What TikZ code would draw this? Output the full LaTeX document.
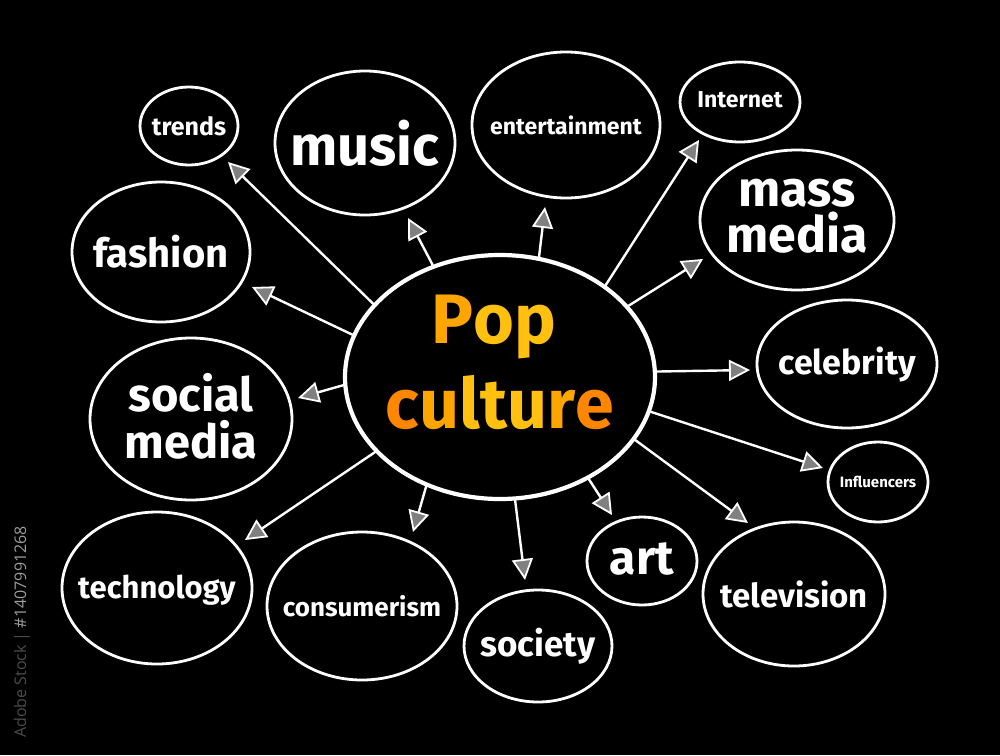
\documentclass[tikz,border=0pt]{standalone}
\usepackage{fontspec}
\setmainfont{Fira Sans}
\newfontfamily\wmfont{Open Sans}
\usetikzlibrary{shapes.geometric,arrows.meta}
\definecolor{orA}{RGB}{255,135,0}
\definecolor{orB}{RGB}{255,165,0}
\definecolor{orC}{RGB}{255,192,15}
\newcommand{\fs}[1]{\fontsize{#1}{#1}\selectfont\bfseries}
\tikzset{
  bubble/.style={ellipse, draw=white, line width=2.8pt, fill=black,
    inner sep=0pt},
  lbl/.style={text=white, inner sep=0pt, align=center},
  hub/.style={ellipse, draw=white, line width=4.2pt, fill=black, inner sep=0pt,
    minimum width=310pt, minimum height=244pt},
  link/.style={draw=white, line width=2.4pt, line cap=round,
    -{Triangle[length=21pt,width=21pt,fill=white!50!black,line width=1.8pt]}},
}
\begin{document}
\begin{tikzpicture}[x=1pt,y=-1pt]
\useasboundingbox (0,0) rectangle (1000,755);
\fill[black] (0,0) rectangle (1000,755);

% central node
\node[hub] (pc) at (500,377) {};
\node[lbl] (pop) at (494,327) {\fs{70}\textcolor{orB}{P}\textcolor{orC}{o}\textcolor{orC}{p}};
\node[lbl] (cul) at (500,403) {\fs{70}\textcolor{orA}{c}\textcolor{orB}{u}\textcolor{orC}{l}\textcolor{orC}{t}\textcolor{orC}{u}\textcolor{orB}{r}\textcolor{orA}{e}};

% satellites
\node[bubble, minimum width=98pt, minimum height=78pt] (trends) at (189,126) {};
\node[lbl, font=\fs{25}] (trendsT) at (trends) {trends};
\node[bubble, minimum width=180pt, minimum height=144pt] (music) at (365,143) {};
\node[lbl, font=\fs{56}] (musicT) at (music) {music};
\node[bubble, minimum width=188pt, minimum height=146pt] (ent) at (566,125) {};
\node[lbl, font=\fs{23}] (entT) at (ent) {entertainment};
\node[bubble, minimum width=120pt, minimum height=80pt] (inet) at (740,102) {};
\node[lbl, font=\fs{23}] (inetT) at (740,100) {Internet};
\node[bubble, minimum width=194pt, minimum height=140pt] (mass) at (797,220) {};
\node[lbl, font={\fontsize{50}{46}\selectfont\bfseries}] (massT) at (797,216) {mass\\media};
\node[bubble, minimum width=178pt, minimum height=140pt] (fashion) at (161,252) {};
\node[lbl, font=\fs{40}] (fashionT) at (fashion) {fashion};
\node[bubble, minimum width=180pt, minimum height=128pt] (celeb) at (847,364) {};
\node[lbl, font=\fs{34}] (celebT) at (celeb) {celebrity};
\node[bubble, minimum width=202pt, minimum height=162pt] (social) at (191,419) {};
\node[lbl, font={\fontsize{47}{47}\selectfont\bfseries}] (socialT) at (191,416) {social\\media};
\node[bubble, minimum width=100pt, minimum height=80pt] (infl) at (878,482) {};
\node[lbl, font=\fs{15}] (inflT) at (infl) {Influencers};
\node[bubble, minimum width=190pt, minimum height=152pt] (tech) at (157,588) {};
\node[lbl, font=\fs{31}] (techT) at (157,590) {technology};
\node[bubble, minimum width=190pt, minimum height=148pt] (cons) at (362,606) {};
\node[lbl, font=\fs{26}] (consT) at (cons) {consumerism};
\node[bubble, minimum width=148pt, minimum height=112pt] (soc) at (538,646) {};
\node[lbl, font=\fs{35}] (socT) at (538,646) {society};
\node[bubble, minimum width=110pt, minimum height=88pt] (art) at (642,561) {};
\node[lbl, font=\fs{48}] (artT) at (642,559) {art};
\node[bubble, minimum width=182pt, minimum height=144pt] (tv) at (794,594) {};
\node[lbl, font=\fs{33}] (tvT) at (794,594) {television};

% arrow tips
\coordinate (tTrends) at (228,162);
\coordinate (tFashion) at (252,287);
\coordinate (tMusic) at (408,218);
\coordinate (tEnt) at (545,207);
\coordinate (tInet) at (699,140);
\coordinate (tMass) at (703,259);
\coordinate (tCeleb) at (750,370);
\coordinate (tInfl) at (823,468);
\coordinate (tTv) at (748,523);
\coordinate (tArt) at (612,515);
\coordinate (tSoc) at (525,580);
\coordinate (tCons) at (413,532);
\coordinate (tTech) at (245,540);
\coordinate (tSocial) at (298,398);

\draw[link] (pc.150.7) -- (tTrends);
\draw[link] (pc.164.2) -- (tFashion);
\draw[link] (pc.121.3) -- (tMusic);
\draw[link] (pc.72.9) -- (tEnt);
\draw[link] (pc.41.9) -- (tInet);
\draw[link] (pc.29.7) -- (tMass);
\draw[link] (pc.2.9) -- (tCeleb);
\draw[link] (pc.-13.1) -- (tInfl);
\draw[link] (pc.-25.7) -- (tTv);
\draw[link] (pc.-49.5) -- (tArt);
\draw[link] (pc.-83.2) -- (tSoc);
\draw[link] (pc.236.9) -- (tCons);
\draw[link] (pc.211.6) -- (tTech);
\draw[link] (pc.183.7) -- (tSocial);

% stock strip
\node[rotate=90, anchor=west, inner sep=0pt, font=\wmfont\fontsize{16}{16}\selectfont] (strip) at (22,738)
  {\textcolor{white!30!black}{Adobe Stock |} \textcolor{white!62!black}{\#1407991268}};
\end{tikzpicture}
\end{document}
